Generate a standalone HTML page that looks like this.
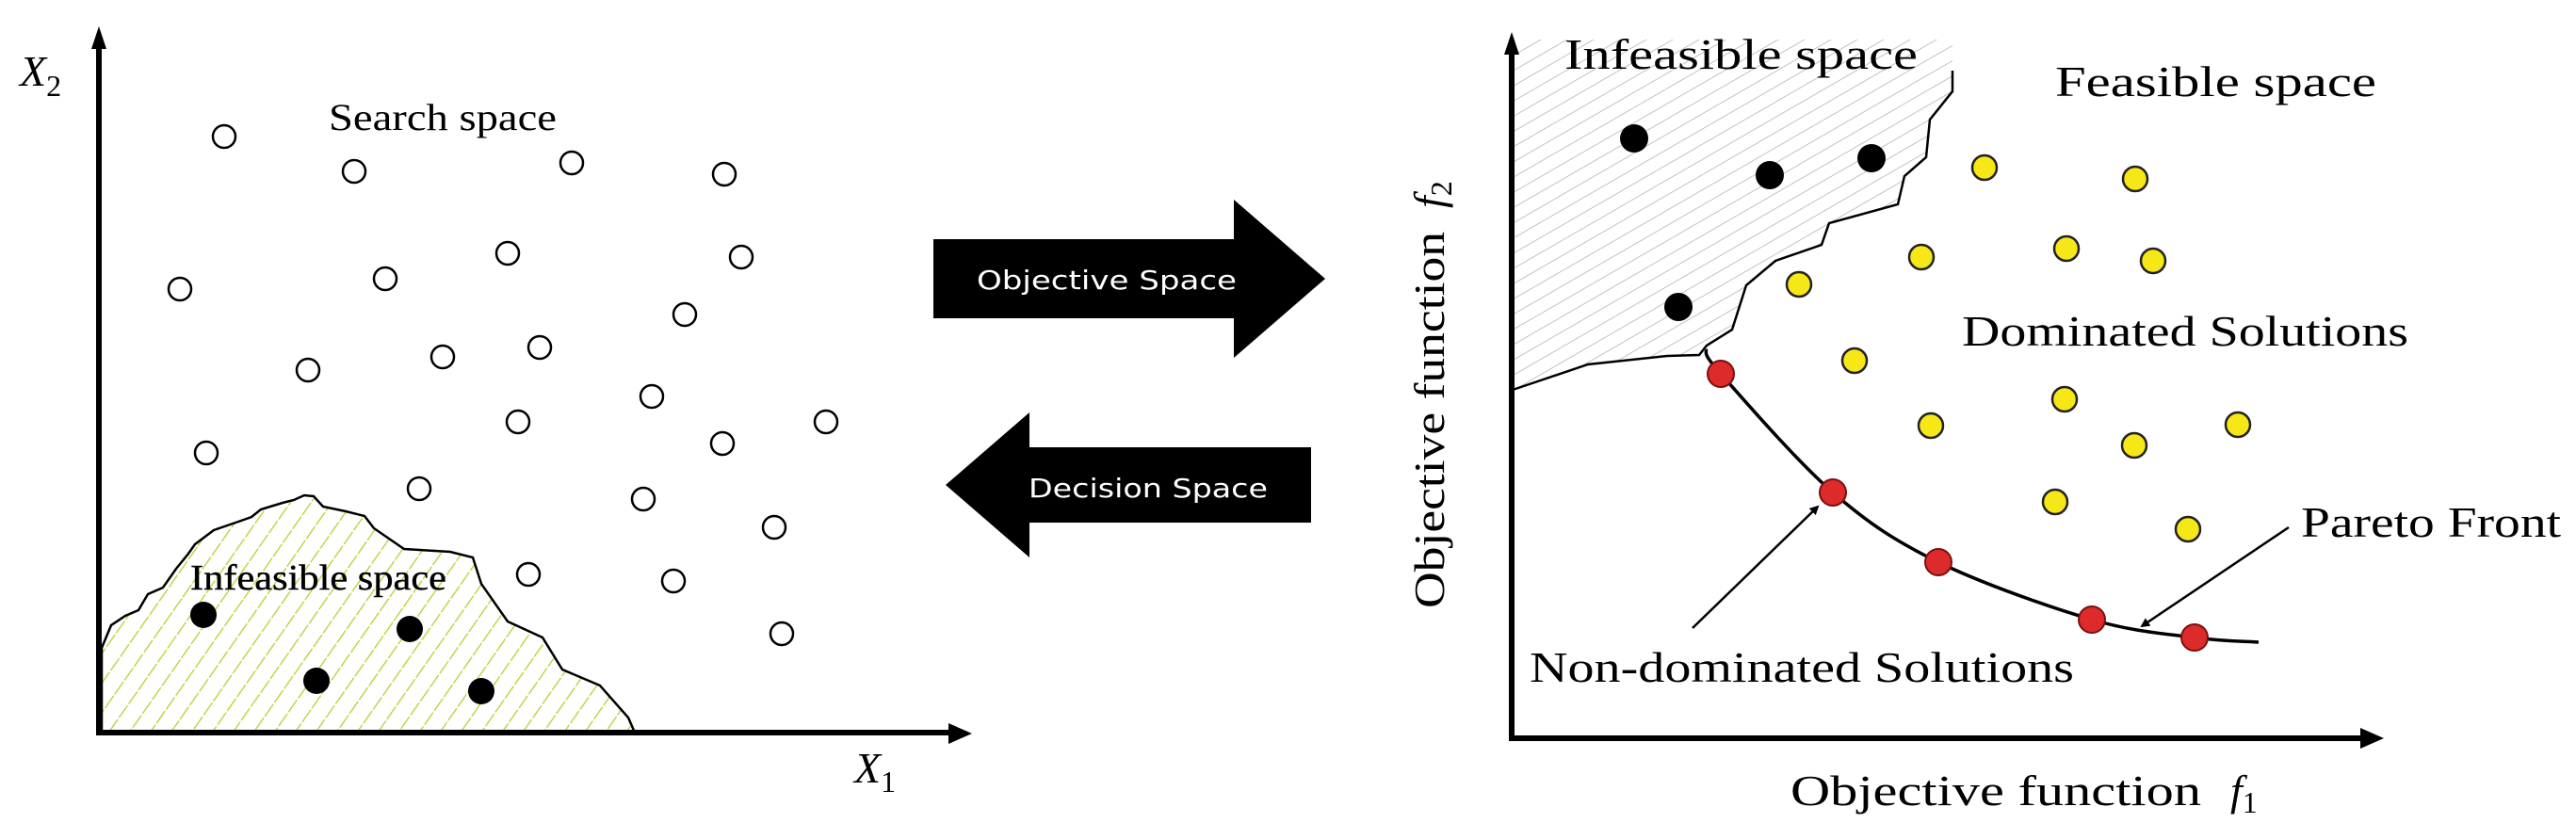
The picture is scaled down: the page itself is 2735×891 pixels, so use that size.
<!DOCTYPE html>
<html><head><meta charset="utf-8"><style>html,body{margin:0;padding:0;background:#fff}svg{display:block}</style></head>
<body>
<svg id="fig" xmlns="http://www.w3.org/2000/svg" width="2735" height="891" viewBox="0 0 2735 891" font-family="Liberation Serif, serif">
<defs>
<pattern id="hatchG" patternUnits="userSpaceOnUse" width="18" height="18" patternTransform="rotate(35)">
<line x1="0" y1="0" x2="0" y2="18" stroke="#b9cf2e" stroke-width="2.6" stroke-dasharray="12 2"/>
</pattern>
<pattern id="hatchK" patternUnits="userSpaceOnUse" width="14" height="14" patternTransform="rotate(60)">
<line x1="0" y1="0" x2="0" y2="14" stroke="#aaaaaa" stroke-width="1.4"/>
</pattern>
<marker id="ah" markerWidth="10" markerHeight="10" refX="8" refY="5" orient="auto" markerUnits="userSpaceOnUse"><path d="M0,0 L10,5 L0,10 Z" fill="#000"/></marker>
</defs>

<!-- LEFT PANEL -->
<g>
<path fill="url(#hatchG)" stroke="#000" stroke-width="2.5" d="M108,778 L108,688 L118,664 L133,654 L147,648 L157,631 L173,624 L187,604 L200,588 L207,578 L227,563 L253,554 L267,549 L277,541 L300,534 L312,531 L323,526 L333,527 L343,538 L367,543 L387,548 L397,561 L429,583 L478,586 L502,592 L511,620 L539,660 L576,677 L597,711 L637,728 L667,762 L674,778 Z"/>
<g id="leftOpen"></g>
<g id="leftBlack"></g>
<line x1="105" y1="780" x2="105" y2="40" stroke="#000" stroke-width="6"/>
<path d="M105,28 L97,52 L113,52 Z" fill="#000"/>
<line x1="102" y1="778" x2="1010" y2="778" stroke="#000" stroke-width="6"/>
<path d="M1032,779 L1007,768 L1007,790 Z" fill="#000"/>
<text x="21" y="91" font-size="46" font-style="italic">X<tspan font-size="32" font-style="normal" dy="11">2</tspan></text>
<text x="907" y="831" font-size="46" font-style="italic">X<tspan font-size="32" font-style="normal" dy="10">1</tspan></text>
<text x="349" y="138" font-size="40" textLength="242" lengthAdjust="spacingAndGlyphs">Search space</text>
<text x="202" y="626" font-size="38" stroke="#000" stroke-width="0.4" textLength="272" lengthAdjust="spacingAndGlyphs">Infeasible space</text>
</g>

<!-- MIDDLE ARROWS -->
<g>
<path d="M991,254 L1310,254 L1310,212 L1407,296 L1310,380 L1310,338 L991,338 Z" fill="#000"/>
<text x="1037" y="307" font-family="DejaVu Sans, Liberation Sans, sans-serif" font-size="28" fill="#fff" textLength="276" lengthAdjust="spacingAndGlyphs">Objective Space</text>
</g>
<g>
<path d="M1004,515 L1093,438 L1093,475 L1392,475 L1392,555 L1093,555 L1093,592 Z" fill="#000"/>
<text x="1092" y="528" font-family="DejaVu Sans, Liberation Sans, sans-serif" font-size="28" fill="#fff" textLength="254" lengthAdjust="spacingAndGlyphs">Decision Space</text>
</g>

<!-- RIGHT PANEL -->
<g>
<path fill="url(#hatchK)" stroke="none" d="M1606,42 L2073,42 L2073,97 L2049,127 L2045,167 L2022,187 L2015,217 L1942,237 L1934,260 L1885,277 L1854,303 L1839,350 L1812,367 L1804,377 L1770,378 L1686,387 L1606,414 Z"/>
<path fill="none" stroke="#000" stroke-width="2.5" d="M2073,75 L2073,97 L2049,127 L2045,167 L2022,187 L2015,217 L1942,237 L1934,260 L1885,277 L1854,303 L1839,350 L1812,367 L1804,377 L1770,378 L1686,387 L1606,414"/>
<path id="paretoCurve" fill="none" stroke="#000" stroke-width="3.5"/>
<g id="rightBlack"></g>
<g id="rightYellow"></g>
<g id="rightRed"></g>
<line x1="1605" y1="787" x2="1605" y2="45" stroke="#000" stroke-width="6"/>
<path d="M1605,34 L1597,58 L1613,58 Z" fill="#000"/>
<line x1="1602" y1="784" x2="2510" y2="784" stroke="#000" stroke-width="6"/>
<path d="M2531,784 L2506,773 L2506,795 Z" fill="#000"/>
<text x="1661" y="73" font-size="46" textLength="375" lengthAdjust="spacingAndGlyphs">Infeasible space</text>
<text x="2182" y="102" font-size="46" textLength="341" lengthAdjust="spacingAndGlyphs">Feasible space</text>
<text x="2083" y="367" font-size="46" textLength="474" lengthAdjust="spacingAndGlyphs">Dominated Solutions</text>
<text x="2443" y="570" font-size="46" textLength="276" lengthAdjust="spacingAndGlyphs">Pareto Front</text>
<text x="1624" y="724" font-size="46" textLength="578" lengthAdjust="spacingAndGlyphs">Non-dominated Solutions</text>
<line x1="2430" y1="560" x2="2274" y2="665" stroke="#000" stroke-width="2.5" marker-end="url(#ah)"/>
<line x1="1797" y1="667" x2="1930" y2="538" stroke="#000" stroke-width="2.5" marker-end="url(#ah)"/>
<text x="1901" y="855" font-size="46"><tspan textLength="436" lengthAdjust="spacingAndGlyphs">Objective function</tspan><tspan x="2368" font-style="italic">f</tspan><tspan font-size="32" dy="8">1</tspan></text>
<text transform="translate(1533,646) rotate(-90)" x="0" y="0" font-size="46"><tspan textLength="400" lengthAdjust="spacingAndGlyphs">Objective function</tspan><tspan x="425" font-style="italic">f</tspan><tspan font-size="32" dy="8">2</tspan></text>
</g>
</svg>
<script>
// Decision space (left) – open feasible points [x, y]
const leftOpenX = [238,376,607,769,539,787,191,409,727,573,470,327,692,550,877,767,219,445,683,822,561,715,830];
const leftOpenY = [145,182,173,185,269,273,307,296,334,369,379,393,421,448,448,471,481,519,530,560,610,617,673];
// Decision space infeasible points
const leftBlackX = [216,435,336,511];
const leftBlackY = [653,668,723,734];
// Objective space infeasible points
const rightBlackX = [1735,1879,1987,1782];
const rightBlackY = [147,186,168,326];
// Dominated solutions
const domX = [2107,2267,2040,2194,2286,1910,1969,2192,2050,2376,2266,2182,2323];
const domY = [178,190,273,264,277,302,383,424,452,451,473,533,562];
// Non-dominated (Pareto) solutions
const paretoX = [1827,1946,2058,2221,2330];
const paretoY = [397,523,597,658,677];
// Curve endpoints
const curveStart = [1811,371];
const curveEnd = [2398,682];

const NS = 'http://www.w3.org/2000/svg';
function circ(parent, cx, cy, r, fill, stroke, sw) {
  const c = document.createElementNS(NS, 'circle');
  c.setAttribute('cx', cx); c.setAttribute('cy', cy); c.setAttribute('r', r);
  c.setAttribute('fill', fill); c.setAttribute('stroke', stroke); c.setAttribute('stroke-width', sw);
  parent.appendChild(c);
  return c;
}
const gLO = document.getElementById('leftOpen');
leftOpenX.forEach((x, i) => {
  const c = circ(gLO, x, leftOpenY[i], 12, '#fff', '#000', 2.5);
  
  
});
const gLB = document.getElementById('leftBlack');
leftBlackX.forEach((x, i) => {
  const c = circ(gLB, x, leftBlackY[i], 14, '#000', 'none', 0);
  
  
});
const gRB = document.getElementById('rightBlack');
rightBlackX.forEach((x, i) => {
  const c = circ(gRB, x, rightBlackY[i], 15, '#000', 'none', 0);
  
  
});
const gY = document.getElementById('rightYellow');
domX.forEach((x, i) => {
  const c = circ(gY, x, domY[i], 13, '#f6e716', '#222', 2.5);
  
  
});
// Pareto curve through points
const pts = [curveStart].concat(paretoX.map((x, i) => [x, paretoY[i]])).concat([curveEnd]);
let d = 'M' + pts[0][0] + ',' + pts[0][1];
for (let i = 0; i < pts.length - 1; i++) {
  const p0 = pts[Math.max(0, i - 1)], p1 = pts[i], p2 = pts[i + 1], p3 = pts[Math.min(pts.length - 1, i + 2)];
  const c1 = [p1[0] + (p2[0] - p0[0]) / 6, p1[1] + (p2[1] - p0[1]) / 6];
  const c2 = [p2[0] - (p3[0] - p1[0]) / 6, p2[1] - (p3[1] - p1[1]) / 6];
  d += ' C' + c1[0] + ',' + c1[1] + ' ' + c2[0] + ',' + c2[1] + ' ' + p2[0] + ',' + p2[1];
}
document.getElementById('paretoCurve').setAttribute('d', d);
const gR = document.getElementById('rightRed');
paretoX.forEach((x, i) => {
  const c = circ(gR, x, paretoY[i], 14, '#dd2a2a', '#7a1010', 2);
  
  
});
</script>
</body></html>
